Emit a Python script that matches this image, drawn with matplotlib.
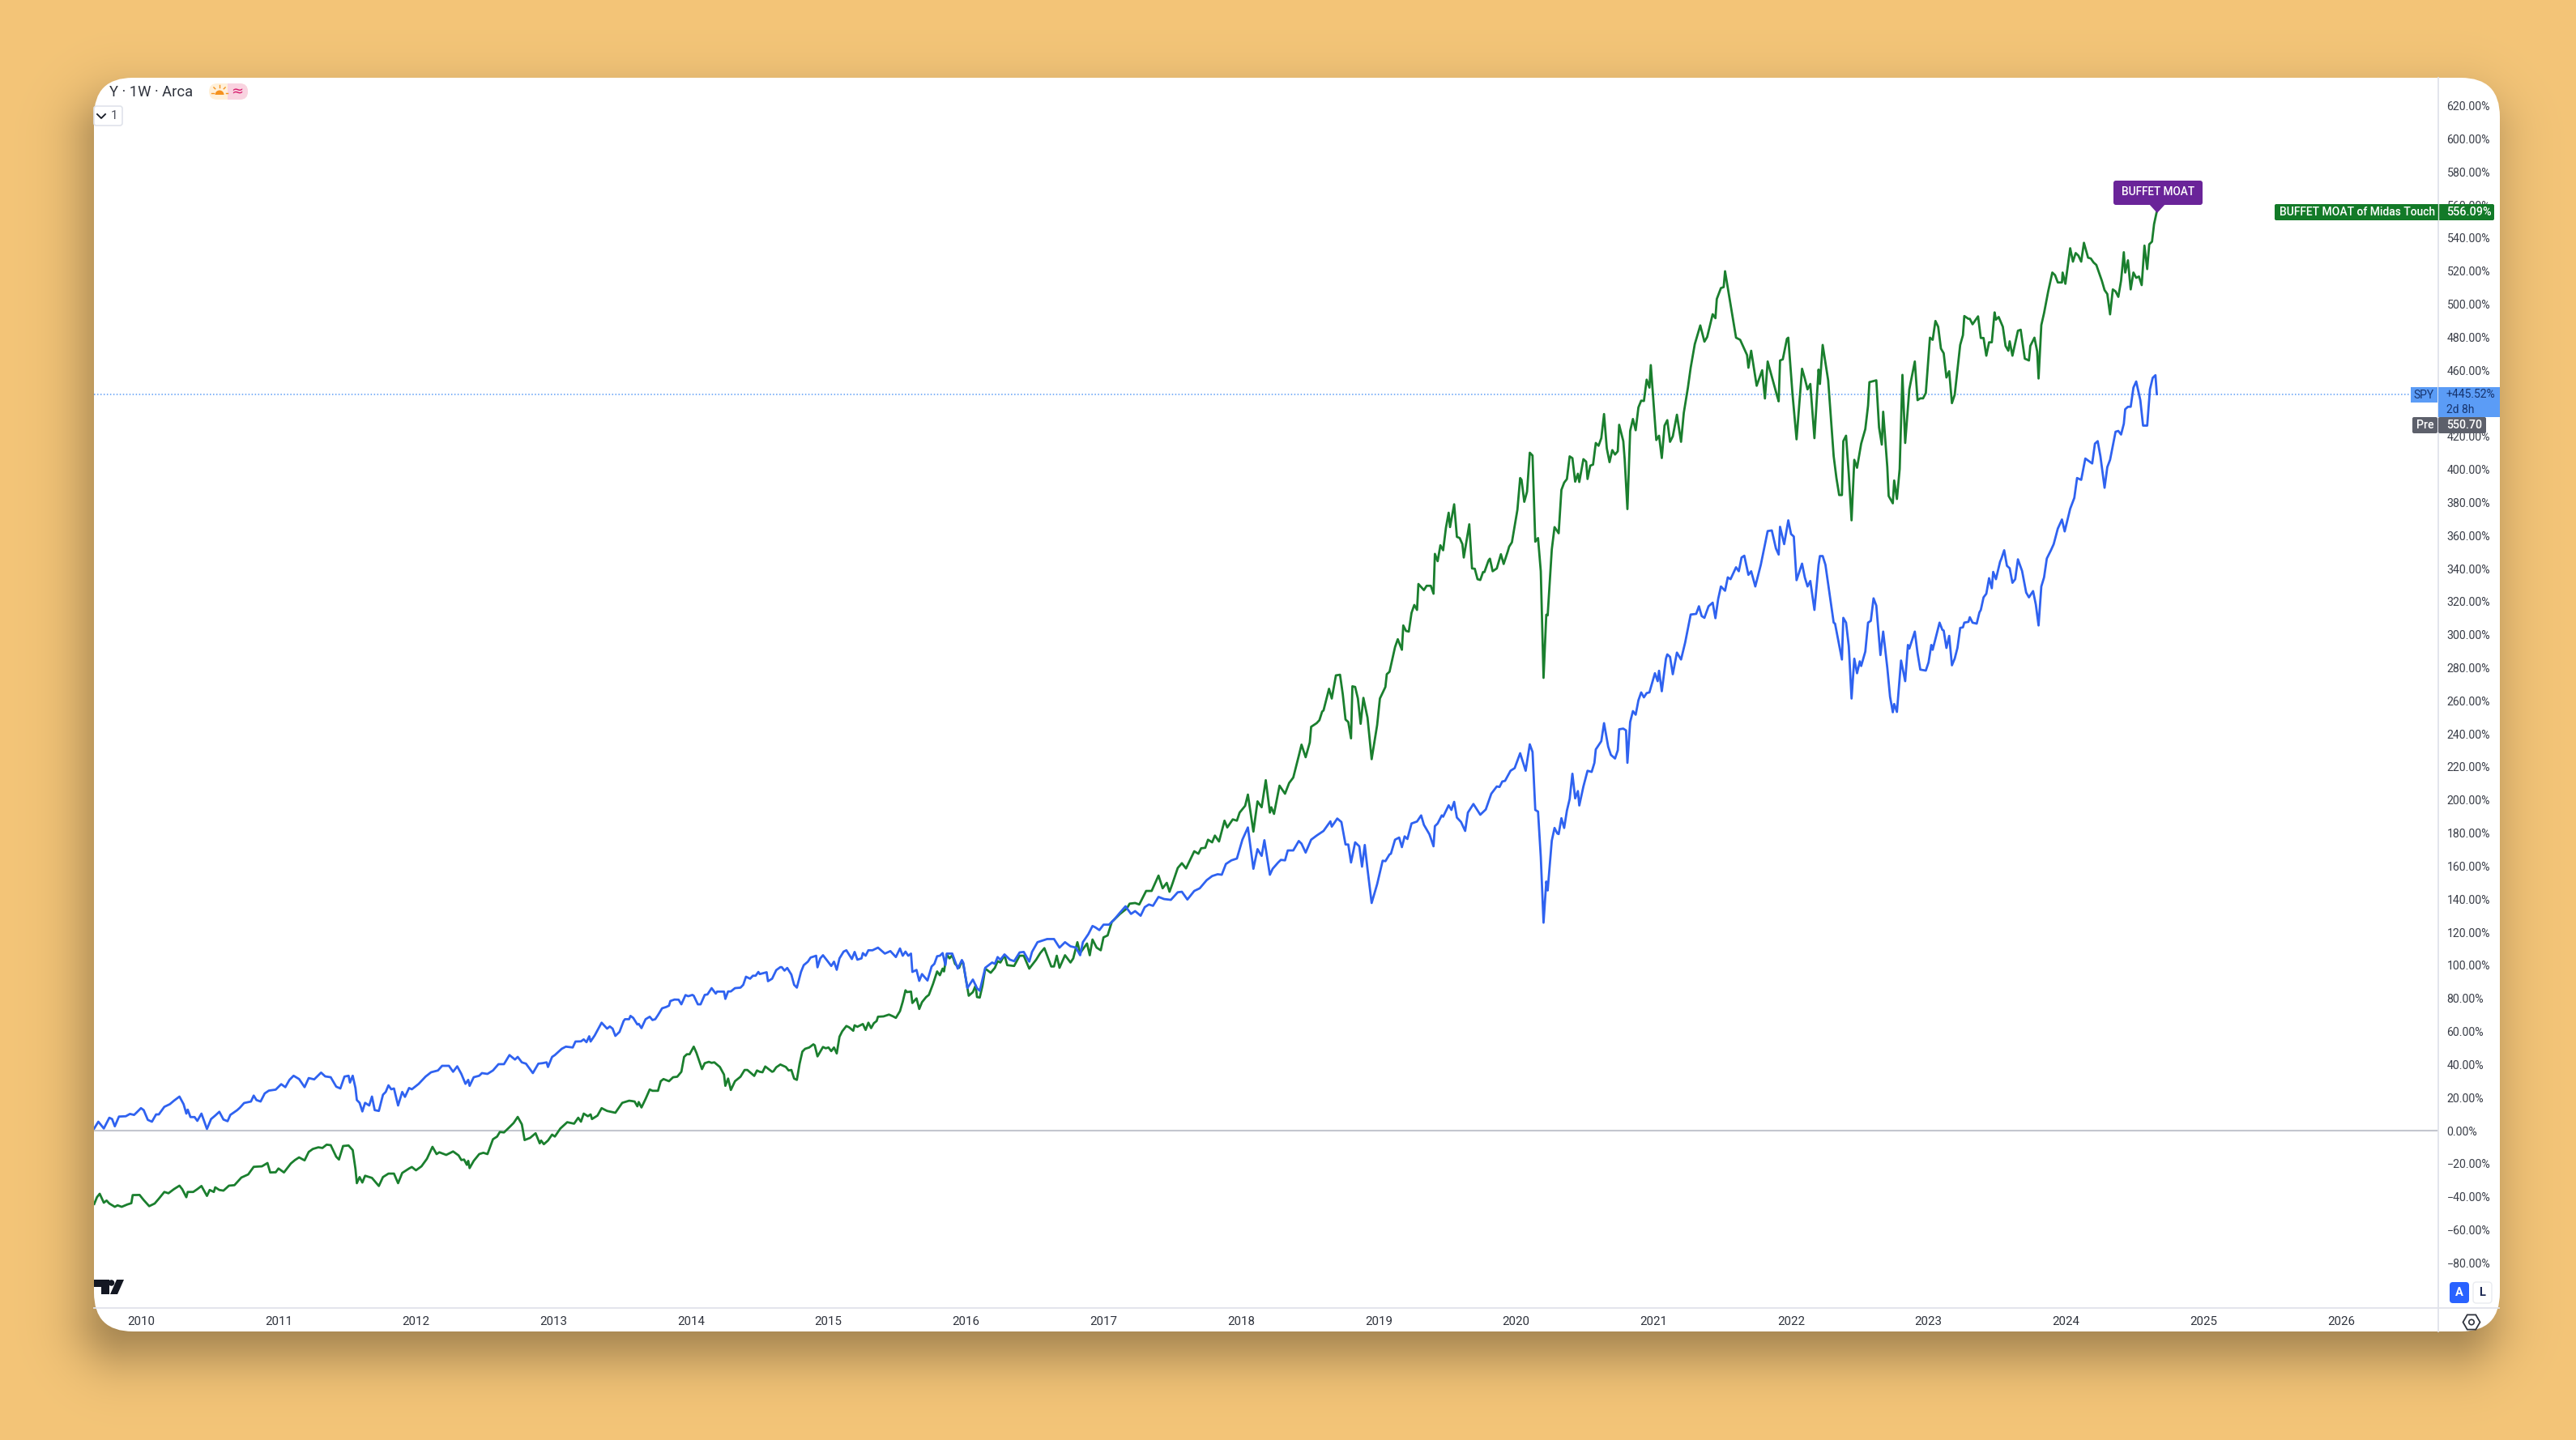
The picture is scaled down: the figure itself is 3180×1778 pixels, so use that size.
import numpy as np
import matplotlib
matplotlib.use("Agg")
import matplotlib.pyplot as plt
from matplotlib.patches import FancyBboxPatch, Rectangle, Polygon, Circle, RegularPolygon, Wedge

plt.rcParams['font.family'] = ['Roboto', 'DejaVu Sans']

# SPY, weekly, % change
spy_years = [
    2009.66, 2009.69, 2009.73, 2009.77, 2009.79, 2009.81, 2009.84, 2009.89, 2009.92, 2009.95, 2009.97, 2010.00, 2010.02, 2010.05, 2010.08, 2010.11,
    2010.13, 2010.17, 2010.21, 2010.24, 2010.28, 2010.31, 2010.33, 2010.34, 2010.36, 2010.39, 2010.41, 2010.44, 2010.48, 2010.51, 2010.54, 2010.57,
    2010.60, 2010.63, 2010.65, 2010.70, 2010.72, 2010.75, 2010.80, 2010.82, 2010.84, 2010.87, 2010.90, 2010.93, 2010.98, 2011.02, 2011.05, 2011.08,
    2011.11, 2011.15, 2011.19, 2011.22, 2011.26, 2011.31, 2011.34, 2011.38, 2011.42, 2011.45, 2011.48, 2011.51, 2011.52, 2011.54, 2011.56, 2011.57,
    2011.59, 2011.61, 2011.63, 2011.66, 2011.68, 2011.70, 2011.73, 2011.76, 2011.78, 2011.80, 2011.82, 2011.84, 2011.87, 2011.90, 2011.92, 2011.95,
    2011.97, 2012.02, 2012.07, 2012.11, 2012.16, 2012.19, 2012.24, 2012.27, 2012.30, 2012.33, 2012.36, 2012.38, 2012.39, 2012.42, 2012.46, 2012.48,
    2012.52, 2012.56, 2012.60, 2012.64, 2012.68, 2012.72, 2012.74, 2012.77, 2012.80, 2012.85, 2012.89, 2012.92, 2012.95, 2012.96, 2012.99, 2013.01,
    2013.06, 2013.09, 2013.14, 2013.16, 2013.20, 2013.22, 2013.24, 2013.26, 2013.27, 2013.30, 2013.35, 2013.39, 2013.41, 2013.43, 2013.45, 2013.48,
    2013.51, 2013.52, 2013.55, 2013.56, 2013.58, 2013.61, 2013.62, 2013.64, 2013.67, 2013.70, 2013.72, 2013.74, 2013.76, 2013.79, 2013.82, 2013.84,
    2013.85, 2013.88, 2013.91, 2013.93, 2013.96, 2013.98, 2014.01, 2014.02, 2014.05, 2014.07, 2014.10, 2014.12, 2014.15, 2014.18, 2014.19, 2014.24,
    2014.25, 2014.27, 2014.29, 2014.32, 2014.36, 2014.38, 2014.40, 2014.43, 2014.45, 2014.47, 2014.49, 2014.50, 2014.55, 2014.56, 2014.59, 2014.62,
    2014.65, 2014.66, 2014.68, 2014.70, 2014.73, 2014.75, 2014.77, 2014.80, 2014.82, 2014.85, 2014.87, 2014.91, 2014.92, 2014.94, 2014.96, 2014.99,
    2015.02, 2015.04, 2015.06, 2015.08, 2015.11, 2015.13, 2015.17, 2015.19, 2015.21, 2015.24, 2015.25, 2015.27, 2015.29, 2015.32, 2015.36, 2015.41,
    2015.45, 2015.49, 2015.52, 2015.54, 2015.56, 2015.58, 2015.60, 2015.61, 2015.64, 2015.66, 2015.68, 2015.72, 2015.75, 2015.77, 2015.79, 2015.81,
    2015.83, 2015.85, 2015.86, 2015.90, 2015.92, 2015.94, 2015.97, 2015.98, 2016.01, 2016.05, 2016.08, 2016.10, 2016.14, 2016.19, 2016.21, 2016.23,
    2016.25, 2016.28, 2016.32, 2016.35, 2016.39, 2016.42, 2016.46, 2016.48, 2016.52, 2016.59, 2016.64, 2016.68, 2016.72, 2016.76, 2016.80, 2016.83,
    2016.85, 2016.89, 2016.92, 2016.94, 2016.97, 2017.00, 2017.04, 2017.08, 2017.12, 2017.16, 2017.20, 2017.23, 2017.27, 2017.30, 2017.33, 2017.36,
    2017.40, 2017.44, 2017.49, 2017.54, 2017.57, 2017.61, 2017.66, 2017.70, 2017.75, 2017.79, 2017.83, 2017.86, 2017.89, 2017.93, 2017.97, 2018.01,
    2018.05, 2018.09, 2018.12, 2018.15, 2018.17, 2018.21, 2018.23, 2018.27, 2018.29, 2018.32, 2018.34, 2018.38, 2018.42, 2018.44, 2018.47, 2018.51,
    2018.55, 2018.60, 2018.65, 2018.66, 2018.70, 2018.73, 2018.76, 2018.78, 2018.80, 2018.83, 2018.86, 2018.88, 2018.90, 2018.92, 2018.95, 2018.99,
    2019.03, 2019.05, 2019.08, 2019.09, 2019.12, 2019.15, 2019.17, 2019.19, 2019.21, 2019.24, 2019.28, 2019.31, 2019.33, 2019.37, 2019.40, 2019.41,
    2019.43, 2019.46, 2019.47, 2019.51, 2019.53, 2019.55, 2019.57, 2019.60, 2019.63, 2019.65, 2019.69, 2019.74, 2019.78, 2019.82, 2019.86, 2019.88,
    2019.90, 2019.92, 2019.96, 2019.99, 2020.03, 2020.07, 2020.10, 2020.12, 2020.14, 2020.16, 2020.18, 2020.20, 2020.22, 2020.23, 2020.26, 2020.28,
    2020.30, 2020.31, 2020.33, 2020.35, 2020.37, 2020.39, 2020.41, 2020.43, 2020.45, 2020.46, 2020.49, 2020.52, 2020.55, 2020.57, 2020.58, 2020.62,
    2020.64, 2020.67, 2020.69, 2020.72, 2020.74, 2020.75, 2020.78, 2020.80, 2020.81, 2020.83, 2020.85, 2020.87, 2020.89, 2020.91, 2020.93, 2020.95,
    2020.97, 2021.01, 2021.03, 2021.04, 2021.06, 2021.09, 2021.10, 2021.12, 2021.14, 2021.17, 2021.20, 2021.23, 2021.27, 2021.31, 2021.33, 2021.35,
    2021.37, 2021.40, 2021.43, 2021.45, 2021.47, 2021.49, 2021.52, 2021.54, 2021.56, 2021.60, 2021.62, 2021.64, 2021.66, 2021.69, 2021.71, 2021.74,
    2021.78, 2021.83, 2021.86, 2021.89, 2021.91, 2021.92, 2021.95, 2021.98, 2022.00, 2022.02, 2022.04, 2022.08, 2022.10, 2022.12, 2022.14, 2022.17,
    2022.20, 2022.21, 2022.23, 2022.25, 2022.31, 2022.32, 2022.37, 2022.38, 2022.40, 2022.42, 2022.44, 2022.46, 2022.48, 2022.50, 2022.51, 2022.54,
    2022.56, 2022.58, 2022.60, 2022.62, 2022.65, 2022.67, 2022.70, 2022.72, 2022.74, 2022.75, 2022.77, 2022.80, 2022.83, 2022.85, 2022.86, 2022.90,
    2022.92, 2022.94, 2022.98, 2023.00, 2023.02, 2023.03, 2023.08, 2023.10, 2023.11, 2023.13, 2023.15, 2023.17, 2023.19, 2023.21, 2023.23, 2023.25,
    2023.26, 2023.29, 2023.30, 2023.32, 2023.35, 2023.37, 2023.38, 2023.40, 2023.42, 2023.44, 2023.46, 2023.47, 2023.49, 2023.52, 2023.53, 2023.55,
    2023.57, 2023.59, 2023.61, 2023.63, 2023.65, 2023.68, 2023.71, 2023.73, 2023.76, 2023.78, 2023.80, 2023.82, 2023.84, 2023.86, 2023.89, 2023.91,
    2023.94, 2023.97, 2023.99, 2024.03, 2024.06, 2024.08, 2024.11, 2024.14, 2024.19, 2024.21, 2024.23, 2024.25, 2024.28, 2024.30, 2024.32, 2024.36,
    2024.38, 2024.40, 2024.42, 2024.43, 2024.45, 2024.47, 2024.49, 2024.51, 2024.54, 2024.56, 2024.59, 2024.61, 2024.63, 2024.65, 2024.66,
]
spy_pct = [
    1.3, 5.4, 1.3, 7.8, 7.0, 2.6, 8.5, 8.7, 10.1, 9.5, 11.1, 13.6, 12.4, 6.5, 5.4, 9.8,
    9.8, 14.4, 16.0, 18.1, 20.6, 16.0, 10.3, 12.7, 8.2, 8.2, 5.9, 10.3, 1.0, 7.0, 9.1, 11.4,
    6.7, 5.7, 9.5, 12.4, 13.9, 16.7, 17.6, 21.2, 18.5, 17.6, 22.5, 24.2, 24.8, 28.1, 26.3, 30.7,
    33.2, 31.2, 26.3, 31.8, 31.0, 35.1, 32.8, 32.3, 26.6, 25.5, 32.7, 33.2, 29.1, 33.2, 25.8, 18.5,
    16.8, 11.6, 16.8, 15.2, 20.6, 12.4, 11.9, 21.7, 23.4, 27.4, 25.0, 25.5, 15.2, 23.4, 20.4, 25.8,
    25.0, 28.3, 32.7, 35.3, 36.4, 39.2, 39.2, 35.6, 38.9, 34.3, 28.3, 30.7, 27.1, 32.3, 33.2, 34.8,
    34.3, 36.4, 40.2, 40.2, 45.7, 43.0, 44.6, 41.3, 40.5, 34.8, 40.5, 40.8, 41.3, 38.5, 44.6, 45.7,
    49.5, 50.8, 50.3, 53.9, 54.0, 55.2, 53.5, 57.1, 53.9, 57.6, 65.3, 61.7, 63.0, 61.7, 57.3, 59.7,
    66.3, 67.4, 67.4, 69.4, 68.2, 64.2, 64.6, 62.0, 67.4, 68.9, 66.9, 67.4, 69.9, 74.0, 74.8, 75.6,
    78.4, 79.3, 79.2, 76.4, 82.0, 81.3, 82.1, 81.6, 76.4, 76.4, 82.1, 82.4, 86.2, 82.9, 84.1, 84.1,
    79.7, 84.2, 84.2, 86.2, 86.5, 88.2, 93.1, 91.9, 93.7, 93.7, 96.0, 94.7, 95.8, 90.4, 91.9, 97.1,
    98.9, 98.9, 96.8, 98.4, 94.4, 88.2, 86.5, 96.0, 100.1, 102.2, 104.7, 105.8, 98.8, 104.2, 106.1, 102.9,
    99.6, 102.2, 97.3, 104.2, 108.3, 109.1, 103.8, 108.1, 103.4, 104.2, 107.4, 105.8, 109.1, 109.1, 110.7, 107.1,
    108.6, 105.0, 110.2, 105.8, 108.3, 105.8, 107.1, 96.0, 97.2, 90.6, 94.7, 90.8, 99.3, 100.9, 105.5, 105.8,
    107.4, 100.1, 107.1, 107.1, 102.5, 98.0, 103.2, 101.6, 86.2, 91.4, 86.2, 84.6, 98.5, 101.7, 100.9, 105.0,
    103.4, 106.6, 103.4, 102.5, 107.8, 108.1, 102.2, 108.1, 114.0, 115.9, 115.9, 110.7, 114.0, 111.5, 110.7, 106.1,
    114.0, 118.9, 123.8, 123.0, 121.3, 124.6, 124.6, 127.9, 131.9, 135.7, 131.1, 132.8, 130.0, 135.2, 136.8, 136.0,
    141.4, 140.1, 139.6, 144.2, 144.5, 139.8, 145.0, 146.6, 151.5, 154.0, 155.1, 154.8, 161.3, 163.5, 164.6, 176.0,
    183.4, 158.4, 170.3, 166.2, 175.7, 154.8, 158.4, 162.2, 163.8, 163.5, 169.5, 169.5, 175.2, 173.6, 168.2, 176.0,
    178.5, 181.3, 187.1, 183.9, 188.8, 186.7, 173.1, 173.1, 162.2, 174.4, 172.0, 159.7, 172.8, 158.1, 137.7, 149.1,
    163.3, 163.0, 167.1, 167.5, 176.0, 177.3, 171.5, 178.0, 176.4, 185.8, 187.0, 190.7, 185.0, 179.3, 172.0, 184.2,
    185.8, 190.7, 189.9, 196.8, 194.0, 198.9, 189.4, 186.7, 181.3, 192.4, 197.6, 191.1, 194.3, 203.8, 208.2, 207.9,
    211.2, 211.6, 217.7, 219.3, 228.3, 217.7, 233.7, 229.1, 194.0, 193.0, 165.6, 125.8, 150.7, 145.3, 175.4, 183.1,
    179.8, 179.4, 189.0, 183.1, 193.6, 200.6, 215.9, 201.0, 205.4, 196.7, 208.2, 217.7, 217.0, 222.5, 230.6, 235.6,
    246.5, 232.3, 227.3, 225.1, 230.1, 242.8, 243.2, 242.1, 222.5, 247.2, 253.8, 251.6, 260.3, 265.1, 262.1, 264.7,
    265.1, 276.7, 271.9, 278.2, 265.8, 285.5, 288.1, 286.6, 276.1, 289.2, 285.0, 295.3, 312.2, 312.6, 317.2, 311.3,
    310.2, 317.2, 319.4, 310.0, 321.6, 329.2, 326.6, 334.7, 333.6, 340.8, 338.4, 346.7, 347.8, 336.2, 338.4, 329.2,
    342.3, 362.7, 363.1, 352.2, 348.5, 365.3, 354.8, 369.2, 360.9, 359.4, 333.0, 343.0, 334.7, 329.2, 332.5, 315.0,
    342.3, 347.6, 347.6, 342.3, 307.3, 306.7, 285.0, 310.2, 307.3, 293.1, 261.4, 285.5, 276.7, 283.9, 281.1, 289.8,
    307.3, 308.4, 322.0, 317.6, 287.7, 301.9, 280.0, 262.5, 253.1, 258.1, 253.3, 284.4, 271.9, 293.8, 291.6, 301.9,
    288.8, 278.9, 278.3, 283.3, 293.8, 290.9, 307.3, 303.0, 302.5, 292.0, 299.3, 281.5, 285.5, 292.0, 304.1, 304.5,
    307.3, 307.8, 310.6, 307.3, 306.7, 313.5, 315.0, 322.6, 324.8, 334.2, 328.1, 338.0, 333.6, 344.1, 346.1, 351.1,
    341.7, 340.2, 331.4, 333.6, 345.6, 338.6, 325.5, 322.6, 326.4, 318.3, 305.6, 329.2, 334.7, 346.1, 351.1, 354.8,
    364.2, 369.7, 362.5, 376.2, 382.8, 394.8, 393.7, 406.6, 403.6, 415.6, 417.1, 407.9, 388.9, 401.4, 405.8, 422.8,
    423.3, 421.1, 427.6, 436.4, 437.9, 437.9, 449.5, 453.2, 441.9, 426.5, 426.5, 448.4, 455.4, 457.0, 445.52,
]

# BUFFET MOAT of Midas Touch, weekly, % change
moat_years = [
    2009.66, 2009.68, 2009.70, 2009.73, 2009.75, 2009.77, 2009.81, 2009.83, 2009.86, 2009.90, 2009.93, 2009.94, 2009.99, 2010.02, 2010.06, 2010.10,
    2010.13, 2010.17, 2010.20, 2010.24, 2010.28, 2010.30, 2010.33, 2010.34, 2010.38, 2010.41, 2010.44, 2010.48, 2010.50, 2010.53, 2010.54, 2010.57,
    2010.60, 2010.64, 2010.68, 2010.73, 2010.78, 2010.82, 2010.88, 2010.92, 2010.94, 2010.98, 2011.00, 2011.04, 2011.09, 2011.12, 2011.15, 2011.19,
    2011.22, 2011.25, 2011.29, 2011.32, 2011.35, 2011.38, 2011.42, 2011.44, 2011.47, 2011.51, 2011.54, 2011.56, 2011.57, 2011.59, 2011.61, 2011.63,
    2011.68, 2011.73, 2011.76, 2011.80, 2011.84, 2011.87, 2011.90, 2011.95, 2011.97, 2012.00, 2012.04, 2012.08, 2012.12, 2012.15, 2012.17, 2012.22,
    2012.27, 2012.31, 2012.33, 2012.35, 2012.37, 2012.38, 2012.39, 2012.42, 2012.46, 2012.49, 2012.52, 2012.56, 2012.59, 2012.61, 2012.64, 2012.68,
    2012.71, 2012.74, 2012.77, 2012.79, 2012.83, 2012.87, 2012.90, 2012.91, 2012.93, 2012.96, 2012.99, 2013.01, 2013.05, 2013.10, 2013.15, 2013.18,
    2013.20, 2013.22, 2013.25, 2013.27, 2013.28, 2013.32, 2013.35, 2013.39, 2013.45, 2013.50, 2013.55, 2013.57, 2013.59, 2013.61, 2013.62, 2013.64,
    2013.67, 2013.70, 2013.72, 2013.76, 2013.78, 2013.80, 2013.84, 2013.87, 2013.90, 2013.93, 2013.95, 2013.97, 2013.99, 2014.02, 2014.04, 2014.06,
    2014.08, 2014.10, 2014.13, 2014.15, 2014.17, 2014.21, 2014.24, 2014.25, 2014.27, 2014.29, 2014.32, 2014.36, 2014.39, 2014.41, 2014.46, 2014.48,
    2014.50, 2014.52, 2014.54, 2014.59, 2014.60, 2014.62, 2014.65, 2014.69, 2014.71, 2014.73, 2014.75, 2014.77, 2014.79, 2014.81, 2014.83, 2014.86,
    2014.89, 2014.90, 2014.92, 2014.96, 2014.98, 2015.00, 2015.02, 2015.04, 2015.06, 2015.08, 2015.10, 2015.13, 2015.15, 2015.18, 2015.19, 2015.21,
    2015.25, 2015.27, 2015.29, 2015.31, 2015.33, 2015.35, 2015.36, 2015.40, 2015.44, 2015.47, 2015.49, 2015.52, 2015.54, 2015.56, 2015.57, 2015.60,
    2015.61, 2015.64, 2015.66, 2015.68, 2015.71, 2015.73, 2015.76, 2015.79, 2015.81, 2015.83, 2015.84, 2015.86, 2015.88, 2015.90, 2015.92, 2015.95,
    2015.97, 2015.98, 2016.02, 2016.05, 2016.07, 2016.08, 2016.10, 2016.12, 2016.14, 2016.18, 2016.21, 2016.23, 2016.25, 2016.28, 2016.30, 2016.35,
    2016.39, 2016.42, 2016.46, 2016.51, 2016.54, 2016.57, 2016.62, 2016.64, 2016.66, 2016.68, 2016.72, 2016.76, 2016.78, 2016.81, 2016.83, 2016.88,
    2016.90, 2016.92, 2016.95, 2016.98, 2017.00, 2017.03, 2017.06, 2017.12, 2017.17, 2017.19, 2017.23, 2017.26, 2017.31, 2017.35, 2017.40, 2017.43,
    2017.46, 2017.48, 2017.50, 2017.54, 2017.57, 2017.60, 2017.66, 2017.69, 2017.71, 2017.74, 2017.76, 2017.79, 2017.81, 2017.84, 2017.88, 2017.90,
    2017.94, 2017.97, 2017.99, 2018.03, 2018.05, 2018.09, 2018.12, 2018.15, 2018.18, 2018.21, 2018.22, 2018.24, 2018.28, 2018.32, 2018.35, 2018.38,
    2018.42, 2018.44, 2018.47, 2018.50, 2018.51, 2018.55, 2018.57, 2018.59, 2018.60, 2018.64, 2018.66, 2018.69, 2018.72, 2018.74, 2018.76, 2018.78,
    2018.80, 2018.81, 2018.83, 2018.85, 2018.87, 2018.89, 2018.92, 2018.95, 2018.99, 2019.01, 2019.05, 2019.06, 2019.08, 2019.12, 2019.14, 2019.17,
    2019.18, 2019.20, 2019.22, 2019.24, 2019.26, 2019.28, 2019.29, 2019.33, 2019.35, 2019.38, 2019.40, 2019.41, 2019.43, 2019.45, 2019.47, 2019.49,
    2019.51, 2019.52, 2019.55, 2019.57, 2019.59, 2019.61, 2019.62, 2019.66, 2019.68, 2019.70, 2019.72, 2019.74, 2019.76, 2019.77, 2019.80, 2019.81,
    2019.83, 2019.86, 2019.89, 2019.91, 2019.94, 2019.95, 2019.97, 2020.01, 2020.03, 2020.04, 2020.06, 2020.08, 2020.10, 2020.12, 2020.14, 2020.16,
    2020.18, 2020.20, 2020.22, 2020.23, 2020.26, 2020.28, 2020.31, 2020.33, 2020.35, 2020.37, 2020.39, 2020.41, 2020.43, 2020.45, 2020.46, 2020.49,
    2020.51, 2020.52, 2020.54, 2020.56, 2020.58, 2020.60, 2020.62, 2020.64, 2020.66, 2020.68, 2020.70, 2020.72, 2020.74, 2020.75, 2020.78, 2020.79,
    2020.81, 2020.83, 2020.85, 2020.87, 2020.89, 2020.91, 2020.93, 2020.95, 2020.97, 2020.98, 2021.02, 2021.04, 2021.06, 2021.08, 2021.10, 2021.12,
    2021.14, 2021.17, 2021.20, 2021.22, 2021.25, 2021.27, 2021.30, 2021.34, 2021.37, 2021.39, 2021.43, 2021.45, 2021.46, 2021.49, 2021.51, 2021.52,
    2021.56, 2021.60, 2021.63, 2021.68, 2021.69, 2021.71, 2021.75, 2021.79, 2021.81, 2021.83, 2021.86, 2021.90, 2021.91, 2021.92, 2021.94, 2021.97,
    2021.98, 2022.01, 2022.04, 2022.08, 2022.10, 2022.12, 2022.14, 2022.17, 2022.20, 2022.21, 2022.23, 2022.27, 2022.31, 2022.33, 2022.35, 2022.37,
    2022.38, 2022.40, 2022.42, 2022.44, 2022.46, 2022.48, 2022.51, 2022.54, 2022.56, 2022.57, 2022.62, 2022.64, 2022.66, 2022.67, 2022.70, 2022.71,
    2022.74, 2022.75, 2022.77, 2022.79, 2022.81, 2022.83, 2022.86, 2022.90, 2022.92, 2022.94, 2022.96, 2022.98, 2023.01, 2023.03, 2023.05, 2023.07,
    2023.09, 2023.11, 2023.13, 2023.15, 2023.17, 2023.19, 2023.23, 2023.25, 2023.26, 2023.29, 2023.30, 2023.32, 2023.36, 2023.38, 2023.40, 2023.42,
    2023.44, 2023.46, 2023.48, 2023.49, 2023.51, 2023.54, 2023.56, 2023.58, 2023.59, 2023.61, 2023.65, 2023.67, 2023.70, 2023.73, 2023.74, 2023.77,
    2023.79, 2023.80, 2023.82, 2023.84, 2023.87, 2023.90, 2023.92, 2023.94, 2023.97, 2023.975, 2023.995, 2024.03, 2024.05, 2024.07, 2024.09, 2024.11,
    2024.13, 2024.16, 2024.18, 2024.20, 2024.22, 2024.26, 2024.28, 2024.30, 2024.32, 2024.34, 2024.36, 2024.38, 2024.40, 2024.42, 2024.43, 2024.45,
    2024.47, 2024.49, 2024.51, 2024.53, 2024.55, 2024.57, 2024.59, 2024.605, 2024.625, 2024.64, 2024.66,
]
moat_pct = [
    -44.4, -40.3, -38.2, -43.6, -42.3, -44.1, -46.1, -45.2, -46.1, -44.7, -43.9, -39.0, -38.9, -42.0, -45.7, -44.1,
    -41.2, -37.1, -37.9, -35.4, -33.3, -35.4, -40.3, -37.1, -37.1, -35.4, -33.5, -39.5, -35.9, -37.1, -34.3, -35.9,
    -36.3, -33.3, -33.0, -28.4, -26.5, -21.9, -21.6, -19.6, -25.3, -25.2, -22.9, -25.3, -19.9, -17.8, -16.2, -18.0,
    -12.9, -11.1, -10.1, -10.5, -8.5, -8.8, -15.8, -17.5, -9.3, -9.0, -11.8, -23.2, -31.8, -28.1, -31.4, -27.3,
    -28.6, -33.5, -28.1, -26.0, -26.0, -31.8, -25.6, -22.9, -22.0, -24.0, -21.6, -17.0, -9.8, -14.2, -13.1, -14.7,
    -12.6, -15.0, -17.8, -17.5, -20.7, -18.3, -22.7, -18.3, -14.2, -13.4, -14.2, -5.2, -3.6, -0.8, -1.1, 2.1,
    4.6, 8.3, 3.8, -5.7, -4.4, -1.6, -7.7, -6.0, -8.2, -6.0, -2.4, -3.6, 1.3, 5.1, 4.2, 7.8,
    5.4, 10.3, 8.7, 9.8, 7.0, 9.1, 13.6, 11.9, 10.8, 16.8, 18.1, 17.9, 17.6, 14.7, 17.3, 14.0,
    19.2, 24.9, 24.1, 24.1, 29.9, 31.2, 29.9, 32.3, 32.6, 35.6, 44.6, 46.2, 46.2, 50.8, 47.0, 42.1,
    37.2, 40.8, 41.6, 41.0, 41.3, 38.5, 33.9, 27.1, 31.5, 24.6, 29.9, 32.6, 36.7, 36.7, 33.1, 36.4,
    35.6, 35.3, 38.8, 35.6, 35.9, 38.3, 40.0, 38.5, 36.4, 36.7, 31.5, 30.7, 40.5, 47.8, 49.5, 50.3,
    52.2, 51.6, 44.9, 50.6, 49.8, 50.3, 48.1, 50.3, 46.7, 56.8, 60.1, 63.3, 62.5, 60.4, 63.7, 62.8,
    64.5, 60.9, 65.3, 62.0, 65.0, 66.3, 68.9, 69.1, 70.2, 69.1, 68.2, 72.3, 78.0, 84.9, 83.8, 84.1,
    77.2, 80.0, 73.6, 77.7, 80.8, 82.1, 88.7, 96.3, 94.0, 98.0, 96.3, 106.6, 104.2, 106.1, 100.9, 98.5,
    102.5, 100.9, 81.6, 83.8, 87.8, 80.8, 80.5, 87.8, 98.0, 95.5, 98.5, 102.5, 101.7, 106.1, 100.1, 99.6,
    105.8, 105.8, 98.0, 103.4, 107.4, 110.4, 99.3, 99.3, 105.8, 98.5, 106.1, 101.7, 104.2, 114.0, 107.4, 113.2,
    106.1, 115.6, 110.7, 109.1, 116.9, 118.1, 126.2, 131.1, 134.4, 137.3, 137.7, 136.8, 145.0, 145.0, 154.3, 146.6,
    149.9, 144.5, 149.1, 158.9, 161.8, 158.6, 169.0, 167.5, 170.8, 171.1, 176.0, 174.4, 178.5, 174.9, 187.5, 183.4,
    188.3, 187.5, 192.4, 196.5, 203.3, 180.9, 199.2, 195.6, 212.0, 192.4, 195.6, 191.6, 208.7, 203.8, 210.3, 213.6,
    226.7, 233.5, 225.9, 234.8, 244.3, 246.5, 248.3, 253.5, 254.2, 267.3, 261.4, 275.4, 275.8, 264.0, 248.7, 247.2,
    237.3, 268.8, 268.4, 261.4, 246.1, 261.8, 249.8, 224.7, 245.4, 261.4, 268.4, 276.1, 277.6, 292.5, 297.3, 290.9,
    305.6, 302.3, 301.9, 313.2, 318.0, 315.0, 330.7, 327.0, 329.6, 329.6, 324.8, 348.9, 344.5, 354.1, 351.1, 364.6,
    373.8, 365.1, 378.9, 359.2, 358.5, 354.8, 346.7, 366.8, 340.1, 339.9, 333.6, 333.1, 337.9, 337.9, 344.9, 346.0,
    338.4, 340.1, 348.7, 342.8, 350.4, 353.3, 355.9, 375.6, 394.8, 393.7, 380.4, 386.5, 410.1, 408.4, 356.3, 358.5,
    338.4, 273.9, 312.1, 311.7, 351.5, 365.1, 361.4, 387.6, 392.0, 394.2, 407.9, 406.8, 392.6, 397.4, 392.4, 406.2,
    404.7, 394.2, 402.3, 402.9, 416.0, 414.3, 418.9, 433.5, 412.8, 404.4, 411.7, 409.0, 411.0, 427.0, 417.1, 406.2,
    376.0, 423.3, 430.5, 423.7, 437.5, 441.6, 441.4, 454.3, 449.5, 463.1, 417.8, 420.4, 406.9, 426.5, 429.8, 416.7,
    420.0, 433.1, 416.7, 434.2, 449.5, 461.5, 475.8, 487.1, 477.3, 480.1, 493.9, 491.5, 503.1, 509.7, 510.3, 519.9,
    499.8, 479.7, 478.4, 469.2, 461.5, 471.8, 450.6, 460.0, 442.9, 465.3, 456.1, 444.0, 441.2, 465.9, 466.6, 479.0,
    479.7, 446.2, 418.2, 460.9, 455.0, 448.4, 451.7, 418.9, 460.4, 451.7, 475.3, 453.9, 408.0, 394.8, 384.5, 384.5,
    417.1, 420.4, 397.0, 369.2, 405.8, 401.0, 415.6, 424.4, 438.6, 452.8, 453.9, 425.4, 415.0, 434.9, 401.4, 383.9,
    379.5, 393.3, 382.1, 400.3, 457.2, 416.0, 448.4, 465.3, 441.9, 443.0, 443.0, 446.2, 479.7, 478.4, 489.8, 486.3,
    473.1, 470.3, 455.6, 459.4, 440.1, 445.1, 475.3, 481.2, 492.8, 491.1, 491.1, 487.8, 492.6, 479.5, 479.5, 468.8,
    476.9, 476.9, 495.0, 490.6, 492.2, 486.3, 474.7, 471.8, 477.5, 468.8, 483.9, 484.5, 467.0, 465.9, 474.7, 479.7,
    471.4, 455.0, 487.3, 494.6, 507.7, 519.1, 517.5, 513.1, 513.1, 519.1, 512.3, 533.8, 525.7, 530.9, 529.3, 525.7,
    537.1, 528.1, 527.6, 525.2, 523.7, 514.2, 508.5, 506.1, 493.8, 508.9, 507.7, 504.4, 514.2, 531.4, 519.1, 526.5,
    508.9, 519.1, 515.9, 516.7, 511.5, 535.4, 521.2, 536.2, 537.8, 548.4, 556.09,
]

year_ticks = list(range(2010, 2027))
pct_ticks = list(range(-80, 621, 20))
spy_last = 445.52
moat_last = 556.09

W, H = 3180, 1778
fig = plt.figure(figsize=(W / 100, H / 100), dpi=100)

# page background with the card's soft shadow, everything here is in pixels
bg = fig.add_axes([0, 0, 1, 1], zorder=0)
card_l, card_t, card_r, card_b, rad = 116, 96, 3086, 1644, 48

yy, xx = np.mgrid[0:H, 0:W]
cx, cy = (card_l + card_r) / 2 - 10, (card_t + card_b) / 2 + 30
qx = np.abs(xx - cx) - ((card_r - card_l) / 2 - rad)
qy = np.abs(yy - cy) - ((card_b - card_t) / 2 - rad)
dist = np.hypot(np.maximum(qx, 0), np.maximum(qy, 0)) + np.minimum(np.maximum(qx, qy), 0) - rad
shade = 1 - 0.36 / (1 + np.exp(np.clip(dist / 20, -30, 30)))
page = np.dstack([shade * 244 / 255, shade * 197 / 255, shade * 120 / 255])
bg.imshow(page, extent=(0, W, H, 0), aspect='auto', interpolation='bilinear')
bg.set_xlim(0, W)
bg.set_ylim(H, 0)
bg.axis('off')
card = FancyBboxPatch((card_l + rad, card_t + rad), card_r - card_l - 2 * rad, card_b - card_t - 2 * rad,
                      boxstyle=f"round,pad={rad},rounding_size={rad}", fc='white', ec='none')
bg.add_patch(card)

# main chart
plot_l, plot_r, plot_t, plot_b = 116, 3010, 96, 1615
ax = fig.add_axes([plot_l / W, 1 - plot_b / H, (plot_r - plot_l) / W, (plot_b - plot_t) / H], zorder=1)
ax.patch.set_alpha(0)
ax.set_xlim(2010 + (plot_l - 174) / 169.75, 2010 + (plot_r - 174) / 169.75)
ax.set_ylim((1396 - plot_b) / 2.041, (1396 - plot_t) / 2.041)

ax.axhline(0, color='#c3c6ce', lw=1.5, zorder=1)
ax.axhline(spy_last, color='#5b9cf6', lw=1.1, ls=(0, (1, 1.6)), zorder=1)
ax.plot(moat_years, moat_pct, color='#1a7f2e', lw=2.0, zorder=2, solid_joinstyle='round')
ax.plot(spy_years, spy_pct, color='#2f62f0', lw=2.0, zorder=3, solid_joinstyle='round')

for side in ['top', 'left']:
    ax.spines[side].set_visible(False)
for side in ['right', 'bottom']:
    ax.spines[side].set_color('#e0e3eb')
    ax.spines[side].set_linewidth(1.3)
ax.yaxis.tick_right()
ax.set_yticks(pct_ticks)
ax.set_yticklabels([f"{v:.2f}%".replace('-', '\u2212') for v in pct_ticks])
ax.set_xticks(year_ticks)
ax.set_xticklabels([str(y) for y in year_ticks])
ax.tick_params(axis='y', length=0, pad=7.5, labelsize=10.2, labelcolor='#3b3f49')
ax.tick_params(axis='x', length=0, pad=7, labelsize=10.8, labelcolor='#2f333d')

# chart furniture on top, also in pixels
ov = fig.add_axes([0, 0, 1, 1], zorder=2)
ov.patch.set_alpha(0)
ov.set_xlim(0, W)
ov.set_ylim(H, 0)
ov.axis('off')


def box(x0, y0, x1, y1, color):
    ov.add_patch(Rectangle((x0, y0), x1 - x0, y1 - y0, fc=color, ec='none'))


def rbox(x0, y0, x1, y1, r, fc, ec='none', lw=1.0):
    ov.add_patch(FancyBboxPatch((x0 + r, y0 + r), x1 - x0 - 2 * r, y1 - y0 - 2 * r,
                                boxstyle=f"round,pad={r},rounding_size={r}", fc=fc, ec=ec, lw=lw))


def label(x, y, s, color, size=9.4, ha='left', **kw):
    ov.text(x, y, s, color=color, fontsize=size, ha=ha, va='center', **kw)


# axis continuation under the price scale and time scale
ov.plot([plot_r, plot_r], [plot_b, card_b], color='#e0e3eb', lw=1.3)
ov.plot([plot_r, card_r - 1], [plot_b, plot_b], color='#e0e3eb', lw=1.3)

# green series label
rbox(2808, 252, 3079, 272, 2, '#137a28')
label(2814, 262, "BUFFET MOAT of Midas Touch", 'white', size=10.0, fontweight='medium')
ov.plot([3009.5, 3009.5], [252, 272], color='#dfe8df', lw=1.0)
label(3020, 262, "556.09%", 'white', size=10.4, fontweight='medium')

# purple note
rbox(2609, 223, 2719, 253, 3, '#6a2499')
ov.add_patch(Polygon([(2653, 252), (2673, 252), (2663, 263)], fc='#6a2499', ec='none'))
label(2664, 237, "BUFFET MOAT", 'white', size=9.8, ha='center', fontweight='medium')

# SPY and premarket labels
box(2976, 478, 3009, 497, '#5b9cf6')
label(2992.5, 487.5, "SPY", '#17346e', size=10.0, ha='center')
box(3010, 478, 3086, 515, '#5b9cf6')
label(3020, 487, "+445.52%", '#17346e', size=10.0)
label(3020, 506, "2d 8h", '#17346e', size=10.0)
rbox(2978, 515, 3009, 535, 2, '#5d606b')
rbox(3010, 515, 3069, 535, 2, '#5d606b')
label(2993.5, 525, "Pre", 'white', size=10.2, ha='center', fontweight='medium')
label(3020, 525, "550.70", 'white', size=10.2, fontweight='medium')

# header
label(135, 114, "Y \u00b7 1W \u00b7 Arca", '#2f333d', size=13.2)
ov.add_patch(FancyBboxPatch((268, 113), 28, 0, boxstyle="round,pad=10,rounding_size=10", fc='#fff0d9', ec='none'))
box(281, 103, 296, 123, '#f9d3e0')
ov.add_patch(FancyBboxPatch((296, 113), 0, 0, boxstyle="round,pad=10,rounding_size=10", fc='#f9d3e0', ec='none'))
ov.add_patch(Wedge((271, 117), 5.5, 180, 360, fc='#f5921e', ec='none'))
for a in np.radians([0, 45, 90, 135, 180]):
    ov.plot([271 + 7.5 * np.cos(a), 271 + 10 * np.cos(a)], [115 - 7.5 * np.sin(a), 115 - 10 * np.sin(a)],
            color='#f5921e', lw=1.0)
label(293, 113, "\u2248", '#d81e6e', size=13, ha='center', family='DejaVu Sans')

# collapse button
ov.add_patch(FancyBboxPatch((118, 133), 31, 20, boxstyle="round,pad=2,rounding_size=3", fc='white', ec='#e0e3eb', lw=1.2))
ov.plot([120, 125, 130], [141, 146, 141], color='#131722', lw=1.3)
label(137, 143, "1", '#50535e', size=11)

# tradingview mark
ov.add_patch(Polygon([(116, 1580), (135, 1580), (135, 1598), (125, 1598), (125, 1589), (116, 1589)], fc='#131722', ec='none'))
ov.add_patch(Circle((137.5, 1584), 3.8, fc='#131722', ec='none'))
ov.add_patch(Polygon([(144, 1580), (153, 1580), (145, 1598), (136, 1598)], fc='#131722', ec='none'))

# auto / log buttons and the settings hexagon
rbox(3024, 1583, 3048, 1609, 4, '#2962ff')
label(3036, 1596.5, "A", 'white', size=10.5, ha='center', fontweight='bold')
rbox(3053, 1583, 3076, 1609, 4, 'white', ec='#e9ebf0', lw=1.0)
label(3064.5, 1596.5, "L", '#1e2a55', size=10.5, ha='center', fontweight='bold')
ov.add_patch(RegularPolygon((3051, 1632.5), 6, radius=10.5, orientation=np.pi / 6, fc='none', ec='#2f333d', lw=1.3))
ov.add_patch(Circle((3051, 1632.5), 3.2, fc='none', ec='#2f333d', lw=1.2))

fig.savefig('out.png', dpi=100)
